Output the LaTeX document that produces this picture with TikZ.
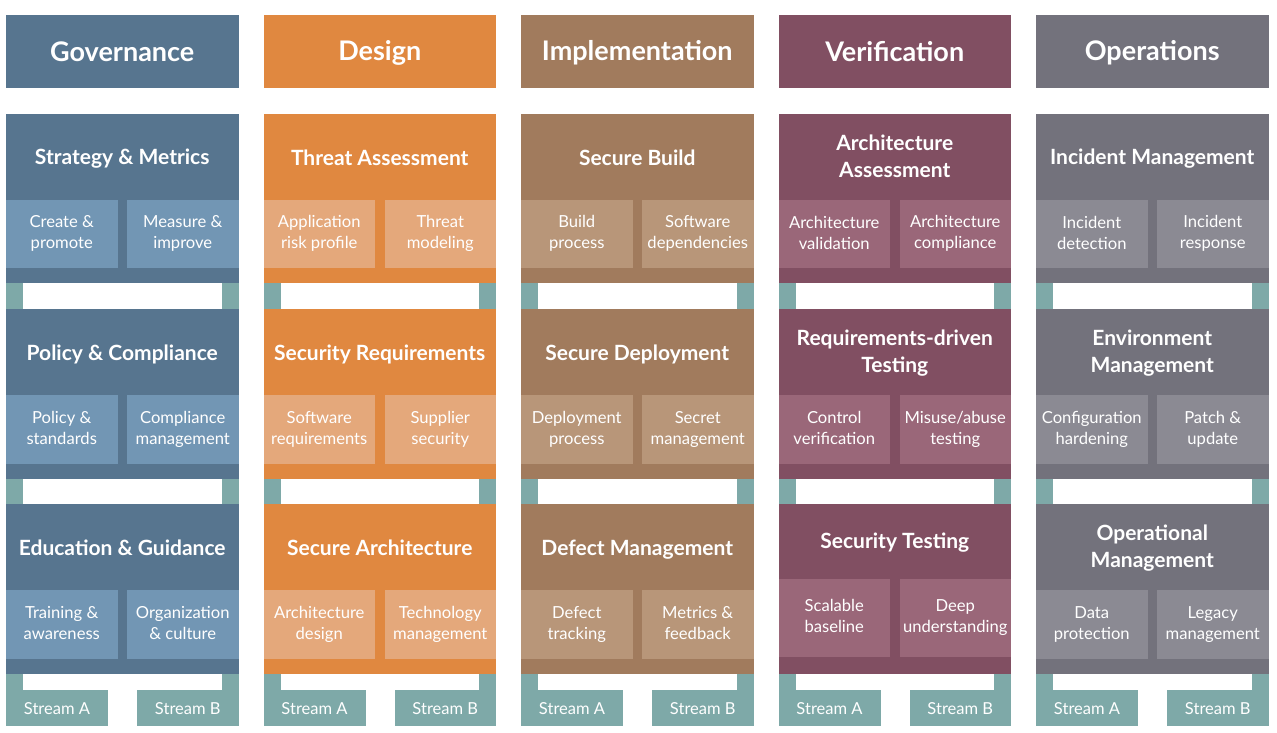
\documentclass[tikz,border=0pt]{standalone}
\usepackage{fontspec}
\setmainfont{Lato}
\definecolor{govD}{HTML}{57758F}
\definecolor{govL}{HTML}{7296B4}
\definecolor{desD}{HTML}{E08840}
\definecolor{desL}{HTML}{E4A87B}
\definecolor{impD}{HTML}{A17B5D}
\definecolor{impL}{HTML}{B89679}
\definecolor{verD}{HTML}{814F62}
\definecolor{verL}{HTML}{9A6779}
\definecolor{opsD}{HTML}{73727C}
\definecolor{opsL}{HTML}{8B8A93}
\definecolor{strm}{HTML}{7EA9A8}
% strut: height - depth = cap height, so lines are centred on their capitals
\newcommand\ms{\rule[-0.15em]{0pt}{1.02em}}
\tikzset{
  header/.style={anchor=north west, inner sep=0pt, outer sep=0pt, minimum width=232.5pt, minimum height=73pt, text=white, font=\fontsize{27}{30}\selectfont\bfseries, execute at begin node=\ms},
  block/.style={anchor=north west, inner sep=0pt, outer sep=0pt, minimum width=232.5pt, minimum height=169.5pt},
  ptitle/.style={inner sep=0pt, text=white, align=center, font=\fontsize{21}{27}\selectfont\bfseries, execute at begin node=\ms},
  sub/.style={anchor=north west, inner sep=0pt, outer sep=0pt, minimum width=111.5pt, text=white, align=center, font=\fontsize{16.6}{21}\selectfont, execute at begin node=\ms},
  stream/.style={inner sep=0pt, outer sep=0pt, minimum height=35.7pt, fill=strm, text=white, font=\fontsize{16.5}{20}\selectfont, execute at begin node=\ms},
}
\newcommand\ttoff{44pt}
\newcommand\subtop{86pt}
\newcommand\subh{68.5pt}
\newcommand\practice[8]{%
  \node[block, fill=#4] (#1) at (#2,#3) {};
  \node[ptitle] (#1t) at ([yshift=-\ttoff]#1.north) {#6};
  \node[sub, fill=#5, minimum height=\subh] (#1a) at ([yshift=-\subtop]#1.north west) {#7};
  \node[sub, fill=#5, minimum height=\subh, anchor=north east] (#1b) at ([yshift=-\subtop]#1.north east) {#8};
}
\newcommand\links[2]{%
  \fill[strm] (#1.south west) rectangle ([xshift=17pt]#2.north west);
  \fill[strm] ([xshift=-17pt]#1.south east) rectangle (#2.north east);
}
\newcommand\streams[1]{%
  \node[stream, anchor=north west, minimum width=102pt] (#1sa) at ([yshift=-16.7pt]#13.south west) {Stream A};
  \node[stream, anchor=north east, minimum width=101.5pt] (#1sb) at ([yshift=-16.7pt]#13.south east) {Stream B};
  \fill[strm] (#13.south west) rectangle ([xshift=17pt]#1sa.north west);
  \fill[strm] ([xshift=-17pt]#13.south east) rectangle (#1sb.north east);
}
\begin{document}
\begin{tikzpicture}[x=1pt,y=-1pt]
\fill[white] (0,0) rectangle (1277,732);
\useasboundingbox (0,0) rectangle (1277,732);
% headers
\node[header, fill=govD] (govh) at (6,15) {Governance};
\node[header, fill=desD] (desh) at (263.5,15) {Design};
\node[header, fill=impD] (imph) at (521,15) {Implementation};
\node[header, fill=verD] (verh) at (778.5,15) {Verification};
\node[header, fill=opsD] (opsh) at (1036,15) {Operations};
% Governance
\practice{gov1}{6}{113.5}{govD}{govL}{Strategy \& Metrics}{Create \&\\\ms promote}{Measure \&\\\ms improve}
\practice{gov2}{6}{309}{govD}{govL}{Policy \& Compliance}{Policy \&\\\ms standards}{Compliance\\\ms management}
\practice{gov3}{6}{504}{govD}{govL}{Education \& Guidance}{Training \&\\\ms awareness}{Organization\\\ms\& culture}
% Design
\practice{des1}{263.5}{113.5}{desD}{desL}{Threat Assessment}{Application\\\ms risk profile}{Threat\\\ms modeling}
\practice{des2}{263.5}{309}{desD}{desL}{Security Requirements}{Software\\\ms requirements}{Supplier\\\ms security}
\practice{des3}{263.5}{504}{desD}{desL}{Secure Architecture}{Architecture\\\ms design}{Technology\\\ms management}
% Implementation
\practice{imp1}{521}{113.5}{impD}{impL}{Secure Build}{Build\\\ms process}{Software\\\ms dependencies}
\practice{imp2}{521}{309}{impD}{impL}{Secure Deployment}{Deployment\\\ms process}{Secret\\\ms management}
\practice{imp3}{521}{504}{impD}{impL}{Defect Management}{Defect\\\ms tracking}{Metrics \&\\\ms feedback}
% Verification
\practice{ver1}{778.5}{113.5}{verD}{verL}{Architecture\\\ms Assessment}{Architecture\\\ms validation}{Architecture\\\ms compliance}
\practice{ver2}{778.5}{309}{verD}{verL}{Requirements-driven\\\ms Testing}{Control\\\ms verification}{Misuse/abuse\\\ms testing}
\renewcommand\ttoff{37pt}\renewcommand\subtop{74.5pt}\renewcommand\subh{78pt}
\practice{ver3}{778.5}{504}{verD}{verL}{Security Testing}{Scalable\\\ms baseline}{Deep\\\ms understanding}
\renewcommand\ttoff{44pt}\renewcommand\subtop{86pt}\renewcommand\subh{68.5pt}
% Operations
\practice{ops1}{1036}{113.5}{opsD}{opsL}{Incident Management}{Incident\\\ms detection}{Incident\\\ms response}
\practice{ops2}{1036}{309}{opsD}{opsL}{Environment\\\ms Management}{Configuration\\\ms hardening}{Patch \&\\\ms update}
\practice{ops3}{1036}{504}{opsD}{opsL}{Operational\\\ms Management}{Data\\\ms protection}{Legacy\\\ms management}
% connectors between practices and down to the streams
\foreach \c in {gov,des,imp,ver,ops}{
  \links{\c1}{\c2}
  \links{\c2}{\c3}
  \streams{\c}
}
\end{tikzpicture}
\end{document}
